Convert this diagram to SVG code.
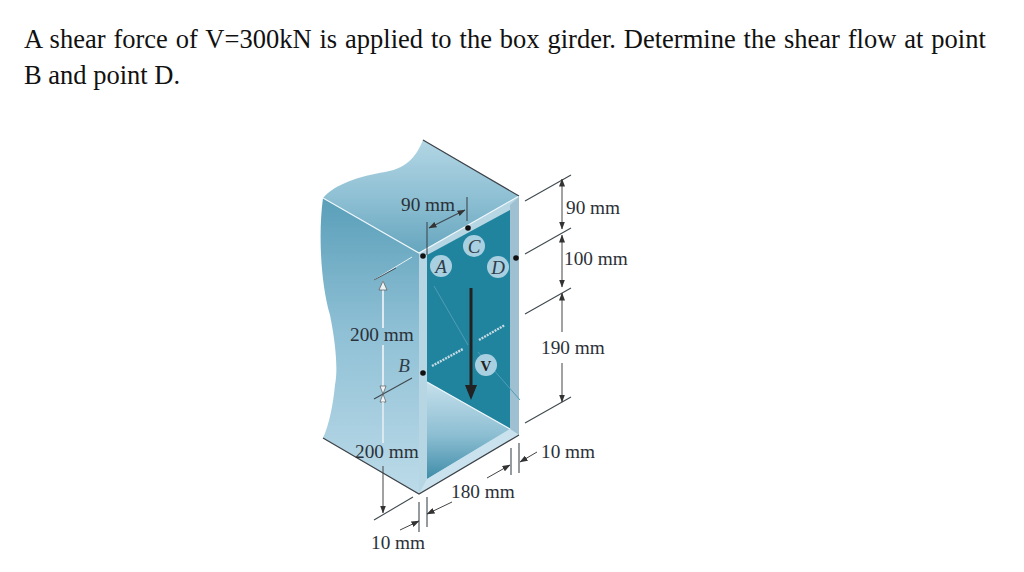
<svg xmlns="http://www.w3.org/2000/svg" width="1024" height="572" viewBox="0 0 1024 572">
<style>
.t{font-family:"Liberation Serif","Times New Roman",serif;fill:#222}
.q{font-size:26.5px;fill:#111}
.d{font-size:19.3px;fill:#2b3138}
.i{font-size:19px;font-style:italic;fill:#2f3d4a}
.l{fill:none;stroke:#444;stroke-width:1}
.e{fill:none;stroke:#3f4a50;stroke-width:1.1}
.w{fill:none;stroke:#eef7fb;stroke-width:1.1}
.b{fill:#a9d0e0}
</style>
<defs>
<linearGradient id="top" x1="0" y1="0" x2="0" y2="1"><stop offset="0" stop-color="#b2d6e4"/><stop offset=".5" stop-color="#8fc0d4"/><stop offset="1" stop-color="#66a6be"/></linearGradient>
<linearGradient id="left" x1="0" y1="0" x2="0" y2="1"><stop offset="0" stop-color="#5a9fb9"/><stop offset=".45" stop-color="#8fc0d5"/><stop offset="1" stop-color="#bcdbe9"/></linearGradient>
<linearGradient id="floor" x1="0" y1="0" x2="0" y2="1"><stop offset="0" stop-color="#c6e0ec"/><stop offset=".55" stop-color="#8cbed2"/><stop offset="1" stop-color="#3f8ca8"/></linearGradient>
<marker id="a" markerWidth="8" markerHeight="6" refX="7.500" refY="3" orient="auto-start-reverse" markerUnits="userSpaceOnUse"><path d="M0 0L8 3L0 6Z" fill="#333"/></marker>
</defs>
<text class="t q" x="24" y="48" word-spacing="1.3">A shear force of V=300kN is applied to the box girder. Determine the shear flow at point</text>
<text class="t q" x="24" y="84">B and point D.</text>
<g id="girder">
<path id="left-face" d="M323 198C318 235 321 285 330 315C336 345 338 370 335 385C333 405 329 425 323 438L419 494L419 253Z" fill="url(#left)"/>
<path id="top-face" d="M323 198C335 184 360 176 385 172C410 168 418 152 423 140L519 196L419 253Z" fill="url(#top)"/>
<path id="front-frame" d="M419 253L519 196L519 435L419 494Z" fill="#b7d6e4"/>
<path d="M510 205L519 197V435L510 429Z" fill="#9fc0d0"/>
<path id="inner" d="M427 255L510 210V429L427 382Z" fill="#21849f"/>
<path id="floor" d="M427 382L510 429L427 479Z" fill="url(#floor)"/>
<path d="M427 479L510 429L519 435L419 494Z" fill="#c9e2ed"/>
<path class="w" d="M323 198L419 253L519 196M427 382L510 429"/>
<path d="M423 140L519 196M323 438L419 494L519 435" fill="none" stroke="#3c4248" stroke-width="1.2"/>
<path d="M434 286L468 345M478 352L520 400" fill="none" stroke="#4f9db6" stroke-width="1"/>
<path d="M479 340L505 325M432 366L463 349" stroke="#c6dbe3" stroke-width="2.4" stroke-dasharray="2 1" fill="none"/>
</g>
<g id="connectors">
<path id="shear-arrow" d="M471 288V385" stroke="#222" stroke-width="3" fill="none"/>
<path d="M465 385H477L471 400Z" fill="#222"/>
<path class="e" d="M427 222V255M467 197V221"/>
<path class="e" d="M429 228L465 210" marker-start="url(#a)" marker-end="url(#a)"/>
<path class="e" d="M525 201L571 175M525 254L571 228M525 314L571 288M525 423L571 397"/>
<path class="l" d="M562 179V229" marker-start="url(#a)" marker-end="url(#a)"/>
<path class="l" d="M562 235V287" marker-start="url(#a)" marker-end="url(#a)"/>
<path class="l" d="M562 293V332" marker-start="url(#a)"/>
<path class="l" d="M562 363V402" marker-end="url(#a)"/>
<path d="M374 280L412 257" fill="none" stroke="#e8f0f3" stroke-width="1"/>
<path d="M374 280L396 268" fill="none" stroke="#333" stroke-width=".8"/>
<path d="M383 281V328M383 345V386" stroke="#f3f6f8" stroke-width="1.6" fill="none"/>
<path d="M379 290L383 281L387 290Z" fill="#eef3f6" stroke="#555" stroke-width=".7"/>
<path class="e" d="M374 399L412 378"/>
<path d="M380 386H386L383 394ZM380 402H386L383 394Z" fill="#f1f5f7" stroke="#444" stroke-width=".6"/>
<path d="M383 402V443" stroke="#eef3f6" stroke-width="1.4" fill="none"/>
<path class="l" d="M383 466V513" marker-end="url(#a)"/>
<path class="e" d="M374 520L413 497"/>
<path class="e" d="M419 502V532M427 497V527M511 448V475M519 443V473"/>
<path class="l" d="M400 530L419 521" marker-end="url(#a)"/>
<path class="l" d="M452 502L427 514" marker-end="url(#a)"/>
<path class="l" d="M487 478L510 465" marker-end="url(#a)"/>
<path class="l" d="M537 452L520 462" marker-end="url(#a)"/>
</g>
<g id="point-A"><circle class="b" cx="441" cy="266" r="11"/><text class="t i" x="441" y="272.500" text-anchor="middle">A</text><circle cx="423" cy="256" r="2.800" fill="#111"/></g>
<g id="point-C"><circle class="b" cx="474" cy="246" r="11"/><text class="t i" x="474" y="252.500" text-anchor="middle">C</text><circle cx="468" cy="228" r="2.800" fill="#111"/></g>
<g id="point-D"><circle class="b" cx="498" cy="267" r="11"/><text class="t i" x="498" y="273.500" text-anchor="middle">D</text><circle cx="516" cy="258" r="2.800" fill="#111"/></g>
<g id="point-B"><text class="t i" x="404" y="372" text-anchor="middle">B</text><circle cx="423" cy="373" r="2.800" fill="#111"/></g>
<g id="load-V"><circle class="b" cx="486" cy="365" r="11"/><text class="t" x="486" y="371" text-anchor="middle" font-size="15" font-weight="bold" fill="#1f2d3a">V</text></g>
<g id="labels">
<text class="t d" x="401" y="211">90 mm</text>
<text class="t d" x="566" y="214">90 mm</text>
<text class="t d" x="564" y="265">100 mm</text>
<text class="t d" x="541" y="354">190 mm</text>
<text class="t d" x="350" y="341">200 mm</text>
<text class="t d" x="355" y="458">200 mm</text>
<text class="t d" x="541" y="458">10 mm</text>
<text class="t d" x="451" y="498">180 mm</text>
<text class="t d" x="371" y="549">10 mm</text>
</g>
</svg>
